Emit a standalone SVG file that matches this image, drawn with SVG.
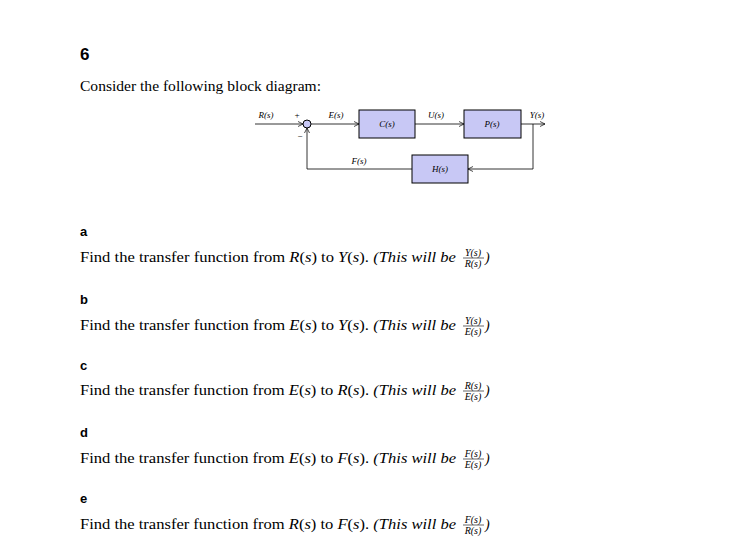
<svg xmlns="http://www.w3.org/2000/svg" width="742" height="558" viewBox="0 0 742 558">
<defs>
<style>
.t{font-family:"Liberation Serif",serif;font-size:14px;fill:#000}
.h{font-family:"Liberation Sans",sans-serif;font-weight:bold;font-size:13px;fill:#000}
.s{font-family:"Liberation Serif",serif;font-size:9px;font-style:italic;fill:#000}
.f{font-family:"Liberation Serif",serif;font-size:10px;font-style:italic;fill:#000}
.b{fill:#c8c8f5;stroke:#000;stroke-width:1}
.l{fill:none;stroke:#000;stroke-width:0.8}
</style>
<marker id="a" markerWidth="6" markerHeight="6" refX="5" refY="3" orient="auto" markerUnits="userSpaceOnUse"><path d="M0,0.5L5,3L0,5.5" fill="none" stroke="#000" stroke-width="0.7"/></marker>
</defs>
<rect width="742" height="558" fill="#fff"/>
<text x="80" y="60" font-family="Liberation Sans,sans-serif" font-weight="bold" font-size="17">6</text>
<text class="t" x="80" y="91" textLength="241" lengthAdjust="spacingAndGlyphs">Consider the following block diagram:</text>
<g id="connectors">
<path class="l" d="M255,124H303" marker-end="url(#a)"/>
<path class="l" d="M311,124H359" marker-end="url(#a)"/>
<path class="l" d="M415,124H464" marker-end="url(#a)"/>
<path class="l" d="M521,124H545" marker-end="url(#a)"/>
<path class="l" d="M533,124V169H468" marker-end="url(#a)"/>
<path class="l" d="M412,169H307V128" marker-end="url(#a)"/>
</g>
<g id="sum"><circle cx="307" cy="124" r="4" fill="#c8c8f5" stroke="#000" stroke-width="1"/></g>
<g id="C"><rect class="b" x="359" y="110" width="56" height="28"/><text class="s" x="387" y="127" text-anchor="middle">C(s)</text></g>
<g id="P"><rect class="b" x="464" y="110" width="57" height="28"/><text class="s" x="492" y="127" text-anchor="middle">P(s)</text></g>
<g id="H"><rect class="b" x="412" y="155" width="56" height="28"/><text class="s" x="440" y="172" text-anchor="middle">H(s)</text></g>
<g id="labels">
<text class="s" x="266" y="118" text-anchor="middle">R(s)</text>
<text class="s" x="297" y="118" text-anchor="middle" font-style="normal">+</text>
<text class="s" x="300" y="139" text-anchor="middle" font-style="normal">−</text>
<text class="s" x="336" y="118" text-anchor="middle">E(s)</text>
<text class="s" x="436" y="118" text-anchor="middle">U(s)</text>
<text class="s" x="537" y="118" text-anchor="middle">Y(s)</text>
<text class="s" x="359" y="164" text-anchor="middle">F(s)</text>
</g>
<text class="h" x="80" y="236">a</text>
<text class="t" x="80" y="262" textLength="376" lengthAdjust="spacingAndGlyphs">Find the transfer function from <tspan font-style="italic">R</tspan>(<tspan font-style="italic">s</tspan>) to <tspan font-style="italic">Y</tspan>(<tspan font-style="italic">s</tspan>). <tspan font-style="italic">(This will be</tspan></text>
<text class="f" x="473" y="256" text-anchor="middle">Y(s)</text><path d="M463,258H484" stroke="#000" stroke-width="0.6"/><text class="f" x="473" y="267" text-anchor="middle">R(s)</text><text class="t" x="485" y="262" font-style="italic">)</text>
<text class="h" x="80" y="304">b</text>
<text class="t" x="80" y="330" textLength="376" lengthAdjust="spacingAndGlyphs">Find the transfer function from <tspan font-style="italic">E</tspan>(<tspan font-style="italic">s</tspan>) to <tspan font-style="italic">Y</tspan>(<tspan font-style="italic">s</tspan>). <tspan font-style="italic">(This will be</tspan></text>
<text class="f" x="473" y="324" text-anchor="middle">Y(s)</text><path d="M463,326H484" stroke="#000" stroke-width="0.6"/><text class="f" x="473" y="335" text-anchor="middle">E(s)</text><text class="t" x="485" y="330" font-style="italic">)</text>
<text class="h" x="80" y="370">c</text>
<text class="t" x="80" y="395" textLength="376" lengthAdjust="spacingAndGlyphs">Find the transfer function from <tspan font-style="italic">E</tspan>(<tspan font-style="italic">s</tspan>) to <tspan font-style="italic">R</tspan>(<tspan font-style="italic">s</tspan>). <tspan font-style="italic">(This will be</tspan></text>
<text class="f" x="473" y="389" text-anchor="middle">R(s)</text><path d="M463,391H484" stroke="#000" stroke-width="0.6"/><text class="f" x="473" y="400" text-anchor="middle">E(s)</text><text class="t" x="485" y="395" font-style="italic">)</text>
<text class="h" x="80" y="437">d</text>
<text class="t" x="80" y="463" textLength="376" lengthAdjust="spacingAndGlyphs">Find the transfer function from <tspan font-style="italic">E</tspan>(<tspan font-style="italic">s</tspan>) to <tspan font-style="italic">F</tspan>(<tspan font-style="italic">s</tspan>). <tspan font-style="italic">(This will be</tspan></text>
<text class="f" x="473" y="457" text-anchor="middle">F(s)</text><path d="M463,459H484" stroke="#000" stroke-width="0.6"/><text class="f" x="473" y="468" text-anchor="middle">E(s)</text><text class="t" x="485" y="463" font-style="italic">)</text>
<text class="h" x="80" y="503">e</text>
<text class="t" x="80" y="529" textLength="376" lengthAdjust="spacingAndGlyphs">Find the transfer function from <tspan font-style="italic">R</tspan>(<tspan font-style="italic">s</tspan>) to <tspan font-style="italic">F</tspan>(<tspan font-style="italic">s</tspan>). <tspan font-style="italic">(This will be</tspan></text>
<text class="f" x="473" y="523" text-anchor="middle">F(s)</text><path d="M463,525H484" stroke="#000" stroke-width="0.6"/><text class="f" x="473" y="534" text-anchor="middle">R(s)</text><text class="t" x="485" y="529" font-style="italic">)</text>
</svg>
